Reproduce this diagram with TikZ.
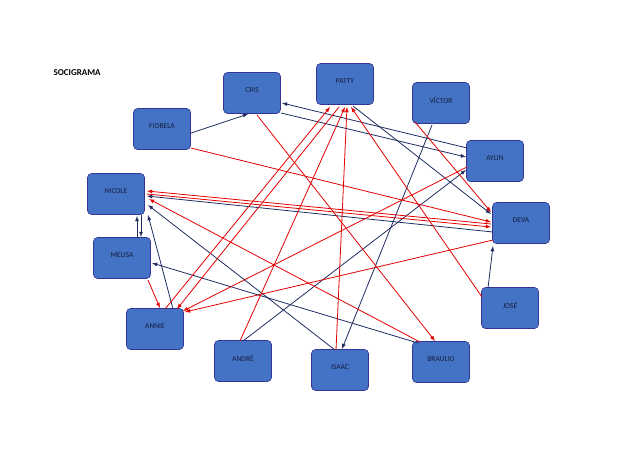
\documentclass[tikz,border=0pt]{standalone}
\usepackage{fontspec}
\setmainfont{Carlito}
\begin{document}
\begin{tikzpicture}[x=1pt,y=-1pt,
  box/.style={draw=blue!50!black!80,line width=0.6pt,fill={rgb,255:red,68;green,114;blue,196},rounded corners=4pt,minimum width=57pt,minimum height=41pt,font=\fontsize{7.5}{8}\selectfont,text={rgb,255:red,20;green,30;blue,60},text depth=5pt},
  bl/.style={draw={rgb,255:red,31;green,45;blue,96},line width=0.8pt,-latex},
  rd/.style={draw=red!90!black,line width=0.8pt,-latex}]
\useasboundingbox (0,0) rectangle (638,451);
\node[anchor=west,font=\bfseries\fontsize{9}{10}\selectfont] (title) at (50,73) {SOCIGRAMA};
\node[box] (cris) at (252,93) {CRIS};
\node[box] (patty) at (345,84) {PATTY};
\node[box] (victor) at (441,103) {VÍCTOR};
\node[box] (fiorela) at (162,129) {FIORELA};
\node[box] (aylin) at (495,161) {AYLIN};
\node[box] (nicole) at (116,194) {NICOLE};
\node[box] (deva) at (521,223) {DEVA};
\node[box] (melisa) at (122,258) {MELISA};
\node[box] (jose) at (510,308) {JOSÉ};
\node[box] (annie) at (155,329) {ANNIE};
\node[box] (andre) at (243,361) {ANDRÉ};
\node[box] (isaac) at (340,370) {ISAAC};
\node[box] (braulio) at (441,362) {BRAULIO};
% blue
\draw[bl] ([shift={(29,4)}]fiorela.center) -- ([shift={(-4,21)}]cris.center);
\draw[bl] ([shift={(-28,-13)}]aylin.center) -- ([shift={(30,10)}]cris.center);
\draw[bl] ([shift={(29,20)}]cris.center) -- ([shift={(-29,-4)}]aylin.center);
\draw[bl] ([shift={(8,22)}]patty.center) -- ([shift={(-30,-9)}]deva.center);
\draw[bl] ([shift={(-9,22)}]victor.center) -- ([shift={(2,-21)}]isaac.center);
\draw[bl] ([shift={(-28,9)}]deva.center) -- ([shift={(31,2)}]nicole.center);
\draw[bl] ([shift={(0,-20)}]andre.center) -- ([shift={(-29,9)}]aylin.center);
\draw[bl] ([shift={(-22,-20)}]jose.center) -- ([shift={(-28,23)}]deva.center);
\draw[bl] ([shift={(-23,-19)}]braulio.center) -- ([shift={(30,5)}]melisa.center);
\draw[bl] ([shift={(-5,-20)}]isaac.center) -- ([shift={(32,11)}]nicole.center);
\draw[bl] ([shift={(18,-20)}]annie.center) -- ([shift={(32,21)}]nicole.center);
\draw[bl] ([shift={(15,-20)}]melisa.center) -- ([shift={(21,22)}]nicole.center);
\draw[bl] ([shift={(25,21)}]nicole.center) -- ([shift={(19,-21)}]melisa.center);
% red
\draw[rd] ([shift={(29,19)}]fiorela.center) -- ([shift={(-30,-1)}]deva.center);
\draw[rd] ([shift={(31,0)}]nicole.center) -- ([shift={(-30,4)}]deva.center);
\draw[rd] ([shift={(-30,1)}]deva.center) -- ([shift={(31,-3)}]nicole.center);
\draw[rd] ([shift={(5,22)}]cris.center) -- ([shift={(-6,-21)}]braulio.center);
\draw[rd] ([shift={(-21,-20)}]braulio.center) -- ([shift={(33,5)}]nicole.center);
\draw[rd] ([shift={(10,-20)}]annie.center) -- ([shift={(-15,23)}]patty.center);
\draw[rd] ([shift={(-6,23)}]patty.center) -- ([shift={(22,-20)}]annie.center);
\draw[rd] ([shift={(-28,6)}]aylin.center) -- ([shift={(28,-18)}]annie.center);
\draw[rd] ([shift={(-28,17)}]deva.center) -- ([shift={(30,-17)}]annie.center);
\draw[rd] ([shift={(-3,-20)}]andre.center) -- ([shift={(0,23)}]patty.center);
\draw[rd] ([shift={(-4,-20)}]isaac.center) -- ([shift={(2,23)}]patty.center);
\draw[rd] ([shift={(-26,19)}]victor.center) -- ([shift={(-30,-11)}]deva.center);
\draw[rd] ([shift={(-28,-11)}]jose.center) -- ([shift={(6,23)}]patty.center);
\draw[rd] ([shift={(26,22)}]melisa.center) -- ([shift={(5,-21)}]annie.center);
\end{tikzpicture}
\end{document}
